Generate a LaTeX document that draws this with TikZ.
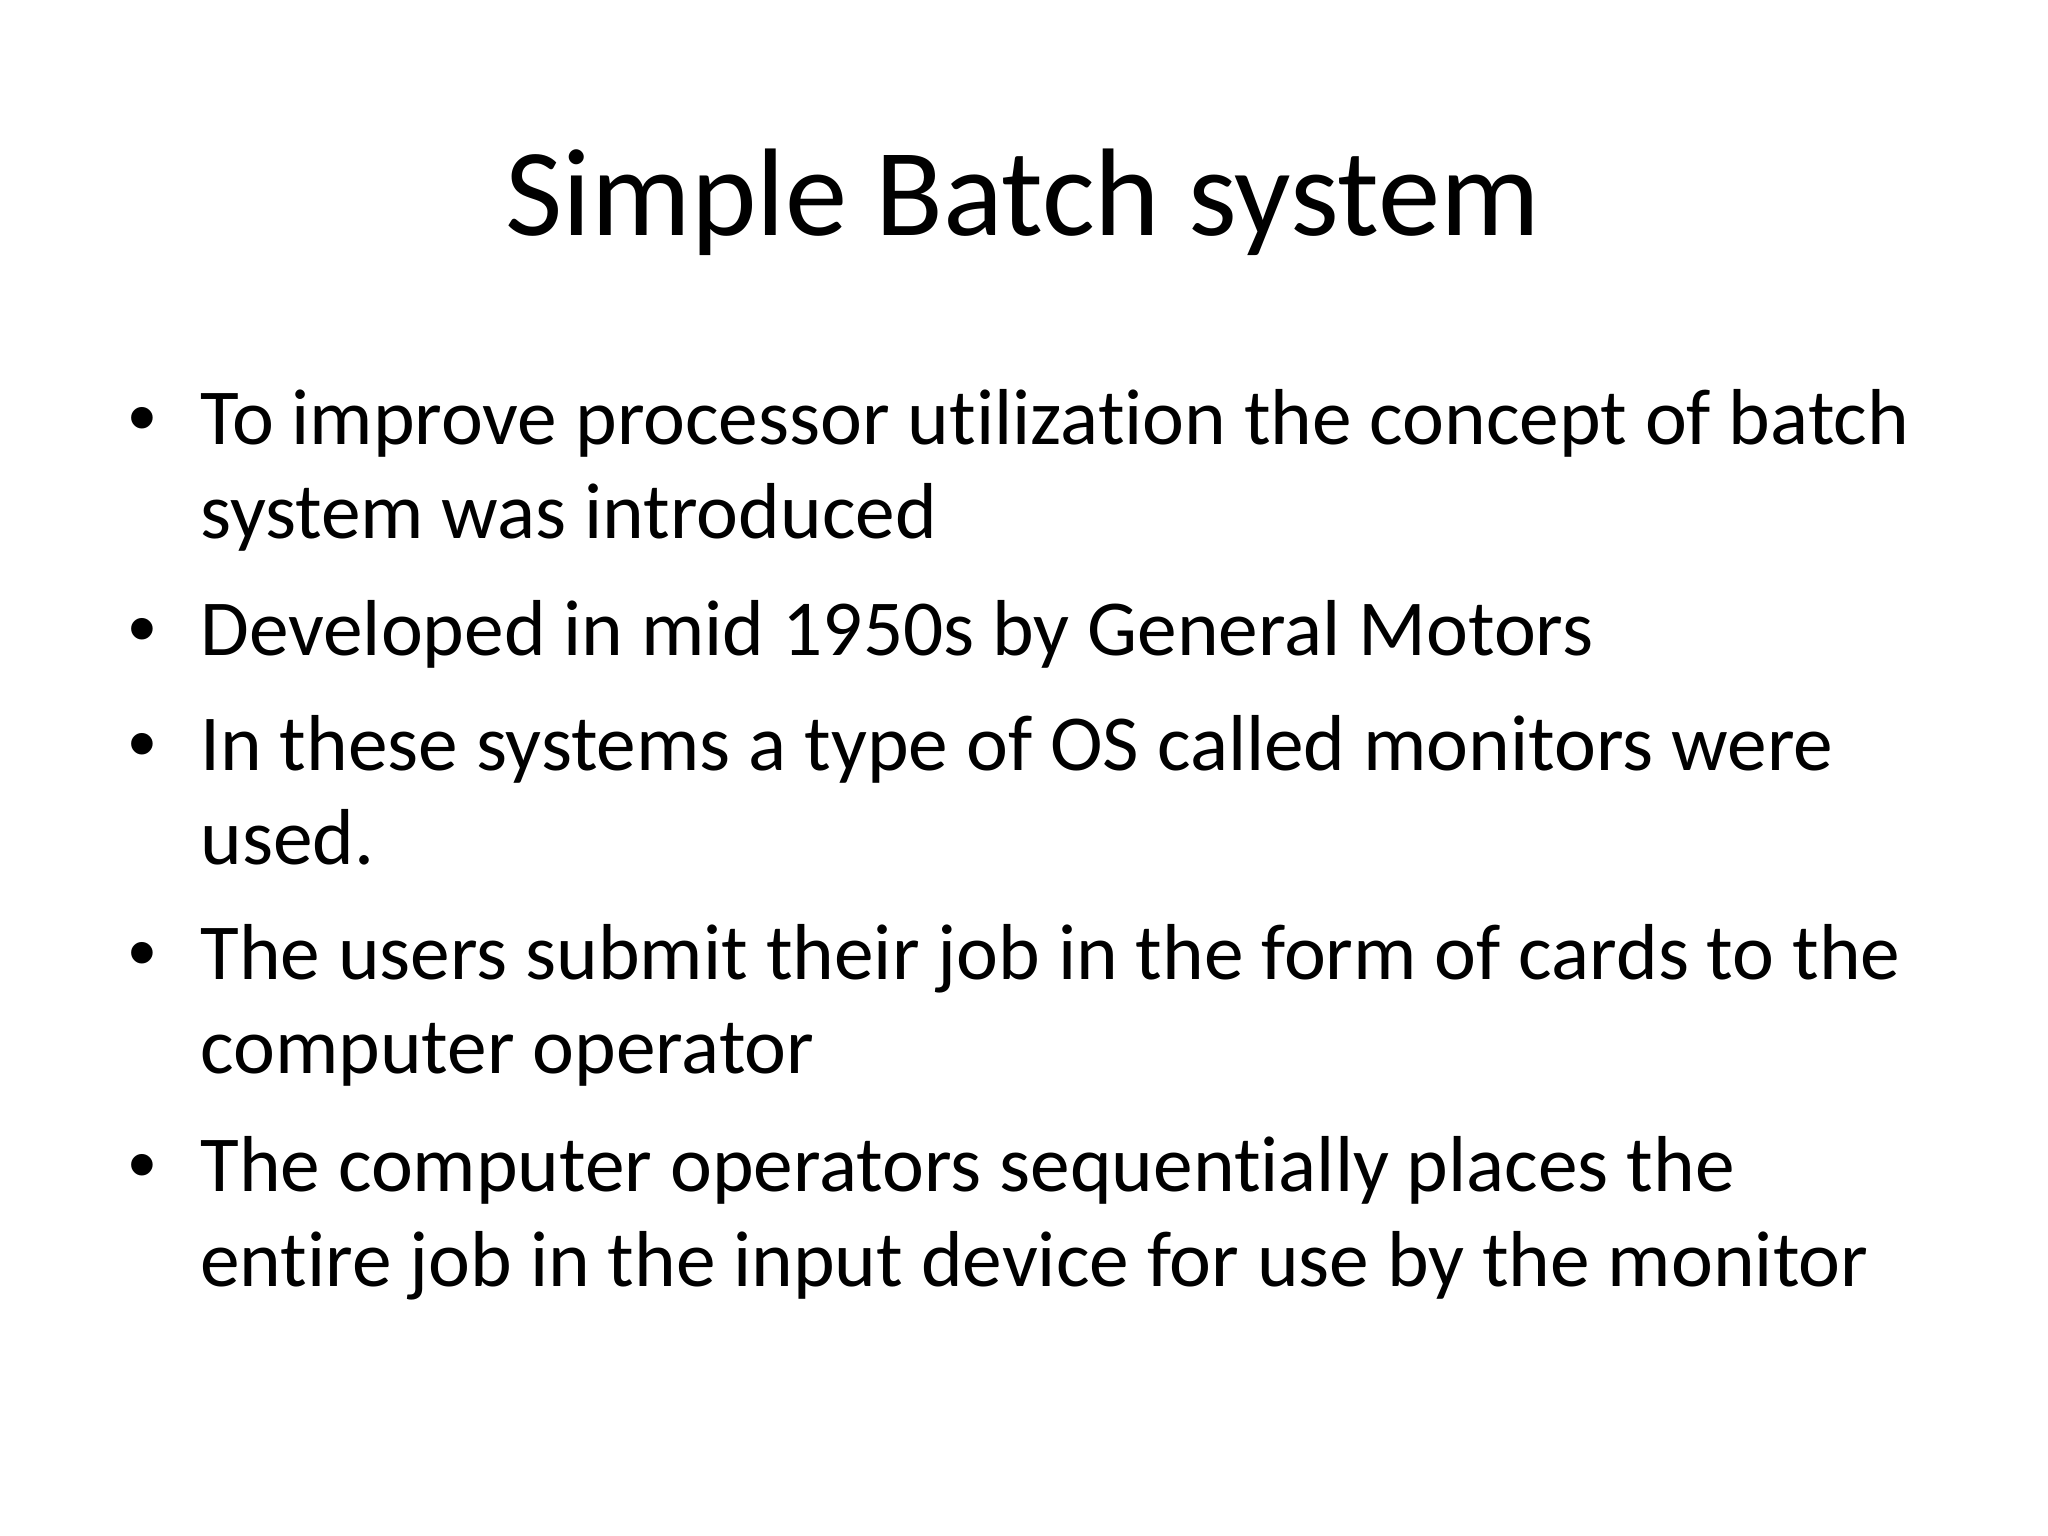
\documentclass[tikz,border=0pt]{standalone}
\usepackage{fontspec}
\setmainfont{Carlito}[Ligatures=NoCommon]
\newfontfamily\bulletfont{Liberation Sans}
\usepackage{xcolor}
\usepackage{tikz}
\definecolor{ink}{HTML}{000000}
\definecolor{paper}{HTML}{FFFFFF}
\tikzset{
  slideTitle/.style={text=ink, font=\fontsize{44}{53}\selectfont, inner sep=0pt, anchor=base},
  slideBullet/.style={text=ink, font=\bulletfont\fontsize{28}{34}\selectfont, inner sep=0pt, anchor=base west},
  slideText/.style={text=ink, font=\fontsize{28}{34}\selectfont, inner sep=0pt, anchor=base west}
}
\begin{document}
\begin{tikzpicture}[x=0.16199mm, y=-0.16199mm]
  \fill[paper] (0,0) rectangle (1568,1176);
  \useasboundingbox (0,0) rectangle (1568,1176);

  \node[slideTitle] (title) at (783,180) {Simple Batch system};

  % bullet marks
  \node[slideBullet] (d1) at (98,340) {•};
  \node[slideBullet] (d2) at (98,502) {•};
  \node[slideBullet] (d3) at (98,590) {•};
  \node[slideBullet] (d4) at (98,750) {•};
  \node[slideBullet] (d5) at (98,912) {•};

  % bullet lines
  \node[slideText] (l1a) at (153,340) {To improve processor utilization the concept of batch};
  \node[slideText] (l1b) at (153,412) {system was introduced};
  \node[slideText] (l2a) at (153,502) {Developed in mid 1950s by General Motors};
  \node[slideText] (l3a) at (153,590) {In these systems a type of OS called monitors were};
  \node[slideText] (l3b) at (153,662) {used.};
  \node[slideText] (l4a) at (153,750) {The users submit their job in the form of cards to the};
  \node[slideText] (l4b) at (153,822) {computer operator};
  \node[slideText] (l5a) at (153,912) {The computer operators sequentially places the};
  \node[slideText] (l5b) at (153,985) {entire job in the input device for use by the monitor};
\end{tikzpicture}
\end{document}
